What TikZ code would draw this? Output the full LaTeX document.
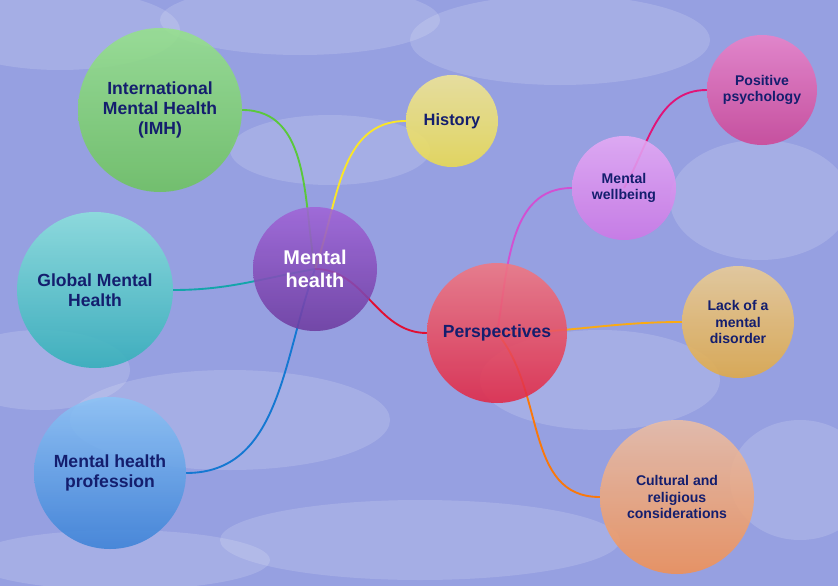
\documentclass[tikz,border=0pt]{standalone}
\usepackage{fontspec}
\setmainfont{Liberation Sans}
\pgfdeclarelayer{sky}\pgfdeclarelayer{bg}\pgfsetlayers{sky,bg,main}
\definecolor{txt}{RGB}{20,30,110}
\definecolor{sky}{RGB}{150,160,225}
\definecolor{imhT}{RGB}{150,225,140}\definecolor{imhB}{RGB}{110,195,95}
\definecolor{hisT}{RGB}{240,230,150}\definecolor{hisB}{RGB}{235,220,80}
\definecolor{mhT}{RGB}{160,100,215}\definecolor{mhB}{RGB}{110,60,160}
\definecolor{gmT}{RGB}{140,225,220}\definecolor{gmB}{RGB}{50,175,185}
\definecolor{prT}{RGB}{140,195,245}\definecolor{prB}{RGB}{60,130,215}
\definecolor{peT}{RGB}{240,120,130}\definecolor{peB}{RGB}{225,40,70}
\definecolor{weT}{RGB}{230,170,245}\definecolor{weB}{RGB}{205,120,230}
\definecolor{poT}{RGB}{235,130,200}\definecolor{poB}{RGB}{205,70,150}
\definecolor{laT}{RGB}{235,205,150}\definecolor{laB}{RGB}{225,170,70}
\definecolor{cuT}{RGB}{235,190,165}\definecolor{cuB}{RGB}{240,145,85}
\definecolor{cG}{RGB}{90,200,60}\definecolor{cY}{RGB}{250,230,40}
\definecolor{cT}{RGB}{20,165,170}\definecolor{cBl}{RGB}{20,120,210}
\definecolor{cR}{RGB}{225,15,50}\definecolor{cV}{RGB}{210,80,210}
\definecolor{cM}{RGB}{225,20,120}\definecolor{cO}{RGB}{250,170,20}
\definecolor{cO2}{RGB}{250,120,10}
\tikzset{
 bub/.style={circle,minimum size=#1*0.06cm,inner sep=0pt,align=center,text=txt,draw=none,fill opacity=0.88,text opacity=1},
 con/.style={line width=1.6pt}
}
\begin{document}
\begin{tikzpicture}[x=0.03cm,y=-0.03cm]
\useasboundingbox (0,0) rectangle (838,586);
\begin{pgfonlayer}{sky}
\clip (0,0) rectangle (838,586);
\fill[sky] (0,0) rectangle (838,586);
\foreach \x/\y/\a/\b in {60/30/120/40,300/20/140/35,560/40/150/45,760/200/90/60,230/420/160/50,420/540/200/40,40/370/90/40,600/380/120/50,800/480/70/60,330/150/100/35,120/560/150/30}
  \fill[white,opacity=0.15] (\x,\y) ellipse ({\a*0.03cm} and {\b*0.03cm});
\end{pgfonlayer}
\node[bub=82,top color=imhT,bottom color=imhB,font=\bfseries\fontsize{15}{17}\selectfont] (imh) at (160,110) {International\\Mental Health\\(IMH)};
\node[bub=46,top color=hisT,bottom color=hisB,font=\bfseries\fontsize{14}{16}\selectfont] (hist) at (452,121) {History};
\node[bub=62,top color=mhT,bottom color=mhB,text=white,font=\bfseries\fontsize{17}{19}\selectfont] (mh) at (315,269) {Mental\\health};
\node[bub=78,top color=gmT,bottom color=gmB,font=\bfseries\fontsize{15}{17}\selectfont] (gmh) at (95,290) {Global Mental\\Health};
\node[bub=76,top color=prT,bottom color=prB,font=\bfseries\fontsize{15}{17}\selectfont] (prof) at (110,473) {Mental health\\profession};
\node[bub=70,top color=peT,bottom color=peB,font=\bfseries\fontsize{15}{17}\selectfont] (pers) at (497,333) {Perspectives};
\node[bub=52,top color=weT,bottom color=weB,font=\bfseries\fontsize{12}{14}\selectfont] (well) at (624,188) {Mental\\wellbeing};
\node[bub=55,top color=poT,bottom color=poB,font=\bfseries\fontsize{12}{14}\selectfont] (pos) at (762,90) {Positive\\psychology};
\node[bub=56,top color=laT,bottom color=laB,font=\bfseries\fontsize{12}{14}\selectfont] (lack) at (738,322) {Lack of a\\mental\\disorder};
\node[bub=77,top color=cuT,bottom color=cuB,font=\bfseries\fontsize{12}{14}\selectfont] (cult) at (677,497) {Cultural and\\religious\\considerations};
\begin{pgfonlayer}{bg}
\draw[con,cG] (imh.east) to[out=0,in=100] (mh.center);
\draw[con,cY] (hist.west) to[out=180,in=70] (mh.center);
\draw[con,cT] (gmh.east) to[out=0,in=190] (mh.center);
\draw[con,cBl] (prof.east) to[out=0,in=250] (mh.center);
\draw[con,cR] (mh.center) to[out=0,in=180] (pers.west);
\draw[con,cV] (pers.center) to[out=80,in=180] (well.west);
\draw[con,cM] (well.center) to[out=60,in=180] (pos.west);
\draw[con,cO] (pers.center) to[out=0,in=180] (lack.west);
\draw[con,cO2] (pers.center) to[out=-50,in=180] (cult.west);
\end{pgfonlayer}
\end{tikzpicture}
\end{document}
